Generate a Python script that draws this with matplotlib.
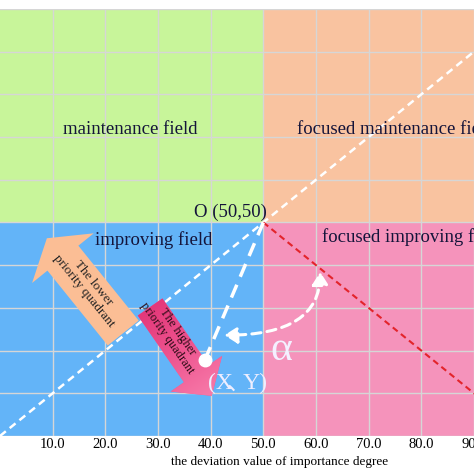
import numpy as np
import matplotlib
matplotlib.use("Agg")
import matplotlib.pyplot as plt
from matplotlib.patches import Rectangle, FancyArrowPatch
from matplotlib.colors import LinearSegmentedColormap

# quadrant fields
QUAD_X0 = [0, 50, 0, 50]
QUAD_Y0 = [50, 50, 0, 0]
QUAD_COLORS = ["#c8f59a", "#f9c3a0", "#63b4f8", "#f593bb"]
QUAD_LABELS = ["maintenance field", "focused maintenance field",
               "improving field", "focused improving field"]
LABEL_X = [24.7, 56.3, 29.2, 61.1]
LABEL_Y = [71.7, 71.7, 45.9, 46.6]
LABEL_HA = ["center", "left", "center", "left"]

XTICKS = [10, 20, 30, 40, 50, 60, 70, 80, 90]
YTICKS = [0, 10, 20, 30, 40, 50, 60, 70, 80, 90, 100]

# reference lines
DIAG_X = [0, 100]
DIAG_Y = [0, 100]
PERP_X = [50, 100]
PERP_Y = [50, 0]

ORIGIN = (50, 50)
POINT = (38.9, 17.8)
FOOT = (60.8, 38.4)        # projection on the red line
ARC_END = (42.6, 23.6)

# priority arrows (tail, tip)
LOWER_TAIL, LOWER_TIP = (23.4, 24.1), (8.9, 46.3)
HIGHER_TAIL, HIGHER_TIP = (28.5, 30.2), (40.2, 9.4)

SERIF = ["Liberation Serif", "DejaVu Serif"]
TXT = "#14143a"

fig = plt.figure(figsize=(4.74, 4.74), dpi=100)
ax = fig.add_axes([0, 0.0802, 1.0, 0.901])
ax.set_xlim(0, 90)
ax.set_ylim(0, 100)

for x0, y0, c in zip(QUAD_X0, QUAD_Y0, QUAD_COLORS):
    ax.add_patch(Rectangle((x0, y0), 50, 50, facecolor=c, edgecolor="none", zorder=0))

ax.set_axisbelow("line")
ax.set_xticks(XTICKS)
ax.set_xticklabels([f"{v:.1f}" for v in XTICKS], family=SERIF, fontsize=10.5)
ax.set_yticks(YTICKS)
ax.set_yticklabels([])
ax.tick_params(length=0, pad=1.5)
ax.grid(True, color="#d6d6d6", linewidth=1.0)
for s in ax.spines.values():
    s.set_visible(False)

for lab, lx, ly, ha in zip(QUAD_LABELS, LABEL_X, LABEL_Y, LABEL_HA):
    ax.text(lx, ly, lab, ha=ha, va="center", fontsize=13.5, family=SERIF, color=TXT)

ax.text(50.6, 52.4, "O (50,50)", ha="right", va="center", fontsize=13.5,
        family=SERIF, color=TXT)

# white diagonal and red perpendicular
ax.plot(DIAG_X, DIAG_Y, color="white", lw=1.8, dashes=(3, 2), zorder=2)
ax.plot(PERP_X, PERP_Y, color="#e3242b", lw=1.5, dashes=(3, 2), zorder=2)

# big arrows
lower = FancyArrowPatch(LOWER_TAIL, LOWER_TIP,
                        arrowstyle="simple,head_length=0.92,head_width=2.85,tail_width=1.43",
                        mutation_scale=20, shrinkA=0, shrinkB=0,
                        facecolor="#fbbe95", edgecolor="none", zorder=3)
ax.add_patch(lower)
higher = FancyArrowPatch(HIGHER_TAIL, HIGHER_TIP,
                         arrowstyle="simple,head_length=0.97,head_width=2.25,tail_width=1.08",
                         mutation_scale=20, shrinkA=0, shrinkB=0,
                         facecolor="#ee5590", edgecolor="none", zorder=3.1)
ax.add_patch(higher)

# pink gradient along the higher priority arrow
gx, gy = np.meshgrid(np.linspace(24, 48, 80), np.linspace(4, 34, 80))
dx = (HIGHER_TIP[0] - HIGHER_TAIL[0]) * 5.27
dy = (HIGHER_TIP[1] - HIGHER_TAIL[1]) * 4.27
t = ((gx - HIGHER_TAIL[0]) * 5.27 * dx + (gy - HIGHER_TAIL[1]) * 4.27 * dy) / (dx * dx + dy * dy)
pink = LinearSegmentedColormap.from_list("pink", ["#e4387a", "#ee5590", "#f77aa9"])
img = ax.imshow(np.clip(t, 0, 1), extent=(24, 48, 4, 34), origin="lower", cmap=pink,
                vmin=0, vmax=1, aspect="auto", zorder=3.2, interpolation="bilinear")
img.set_clip_path(higher)

ax.text(16.8, 34.8, "The lower\npriority quadrant", rotation=-51, ha="center",
        va="center", fontsize=9.5, family=SERIF, color="#222222",
        linespacing=1.0, zorder=4, rotation_mode="anchor")
ax.text(32.7, 23.6, "The higher\npriority quadrant", rotation=-55, ha="center",
        va="center", fontsize=9, family=SERIF, color="#2a0a14",
        linespacing=1.0, zorder=4, rotation_mode="anchor")

# line from origin to point
ax.plot([ORIGIN[0], POINT[0]], [ORIGIN[1], POINT[1]], color="white", lw=2.5,
        dashes=(4, 2.5), zorder=4)
ax.plot(POINT[0], POINT[1], "o", color="white", ms=9, zorder=5)

# curved angle arrow
arc = FancyArrowPatch(FOOT, ARC_END, arrowstyle="<|-|>,head_length=0.55,head_width=0.35",
                      connectionstyle="angle3,angleA=-90,angleB=0",
                      mutation_scale=14, shrinkA=0, shrinkB=0, color="white",
                      lw=2.2, linestyle=(0, (3, 2)), zorder=4)
ax.add_patch(arc)

ax.text(53.5, 20.3, "α", ha="center", va="center", fontsize=30, family=SERIF,
        color="#f4f0ff", zorder=5)

# (X、Y) label in three pieces to keep the ideographic comma tight
xy_kw = dict(va="center", fontsize=17, color="#eeeeff", zorder=5)
ax.text(44.3, 12.4, "(X", ha="right", family=SERIF, **xy_kw)
ax.text(45.3, 12.4, "、", ha="center", family=["Noto Sans CJK SC"], **xy_kw)
ax.text(46.1, 12.4, "Y)", ha="left", family=SERIF, **xy_kw)

fig.text(280 / 474, 1 - 462 / 474, "the deviation value of importance degree",
         ha="center", va="center", fontsize=9.5, family=SERIF)

fig.savefig("out.png", dpi=100)
